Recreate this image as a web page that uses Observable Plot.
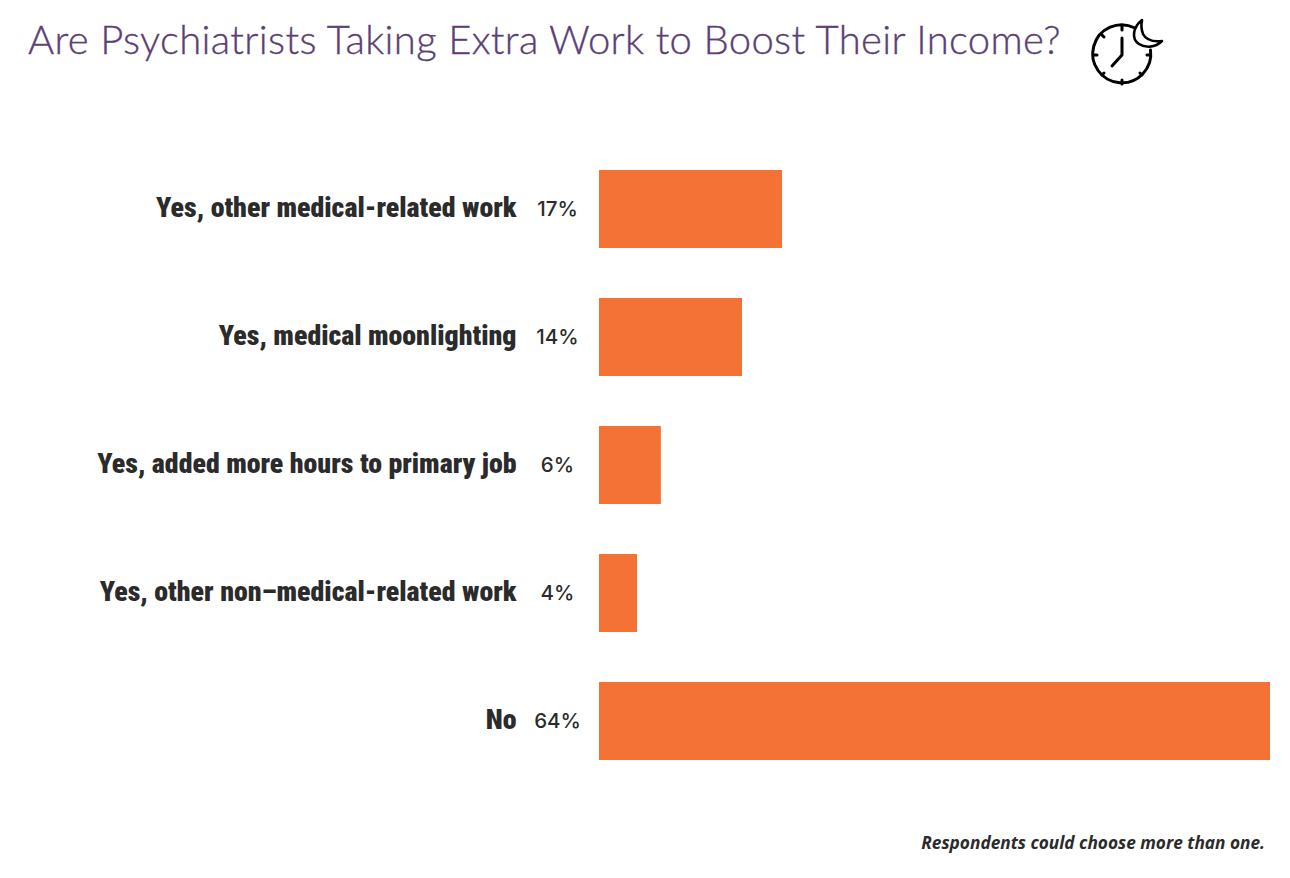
<!DOCTYPE html>
<html><head><meta charset="utf-8">
<script src="https://cdn.jsdelivr.net/npm/d3@7"></script>
<script src="https://cdn.jsdelivr.net/npm/@observablehq/plot@0.6"></script>
<style>
html,body{margin:0;padding:0;background:#fff;width:1290px;height:878px;overflow:hidden}
#head{position:relative;height:90px}
#title{position:absolute;left:28px;top:15px;font:300 40px/48px Lato,sans-serif;letter-spacing:.34px;-webkit-text-stroke:.35px #5b3f75;color:#5b3f75;white-space:nowrap}
#icon{position:absolute;left:1087px;top:15px}
#chart svg{display:block}
#chart{height:720px}
#cap{position:absolute;right:25px;top:831px;font:italic 700 17.25px/24px "Open Sans",sans-serif;color:#2b2b2b;white-space:nowrap}
</style></head><body>
<div id="head"><div id="title"></div>
<svg id="icon" width="84" height="76" viewBox="0 0 84 76" fill="none" stroke="#000" stroke-width="3" stroke-linecap="round" stroke-linejoin="round">
<path d="M48 13A29 29 0 1 0 63.5 35"/>
<path d="M35 11v4M35 65v4M6 40h4M60 40h3M15 20l2 2M53 58l2 2M15 60l2-2"/>
<path d="M35 23v17L25 51"/>
<path d="M55 5C46 12 44 24 52 29C58 33 68 33 75 26C66 27 59 25 56 19C54 14 54 10 55 5Z" stroke-width="2.6"/>
</svg></div>
<div id="chart"></div>
<div id="cap"></div>
<script>
const titleText = "Are Psychiatrists Taking Extra Work to Boost Their Income?";
const captionText = "Respondents could choose more than one.";
const categories = ["Yes, other medical-related work","Yes, medical moonlighting","Yes, added more hours to primary job","Yes, other non\u2013medical-related work","No"];
const values = [17.46, 13.64, 5.9, 3.63, 64];
const valueLabels = ["17%","14%","6%","4%","64%"];
const rows = categories.map((c,i)=>({c, v:values[i], l:valueLabels[i]}));
document.getElementById("title").textContent = titleText;
document.getElementById("cap").textContent = captionText;
const plot = Plot.plot({
  width:1290, height:720, marginLeft:599, marginRight:20, marginTop:30, marginBottom:0,
  style:{background:"transparent"},
  x:{domain:[0,64], axis:null},
  y:{domain:categories, padding:0.39, align:0.5, label:null},
  marks:[
    Plot.barX(rows,{x:"v", y:"c", fill:"#f47236"}),
    Plot.axisY({tickSize:0, tickPadding:83, dy:-1, label:null, fontFamily:"Roboto,sans-serif", fontSize:27.9, fontWeight:900, color:"#2b2b2b"}),
    Plot.text(rows,{x:()=>0, y:"c", text:"l", dx:-42, textAnchor:"middle", fontFamily:"Inter,sans-serif", fontSize:20.5, fontWeight:500, fill:"#2b2b2b"})
  ]
});
document.getElementById("chart").append(plot);
plot.querySelectorAll('g[aria-label="y-axis tick label"] text').forEach(t=>{
  t.style.fontStretch="condensed";
});
</script></body></html>
